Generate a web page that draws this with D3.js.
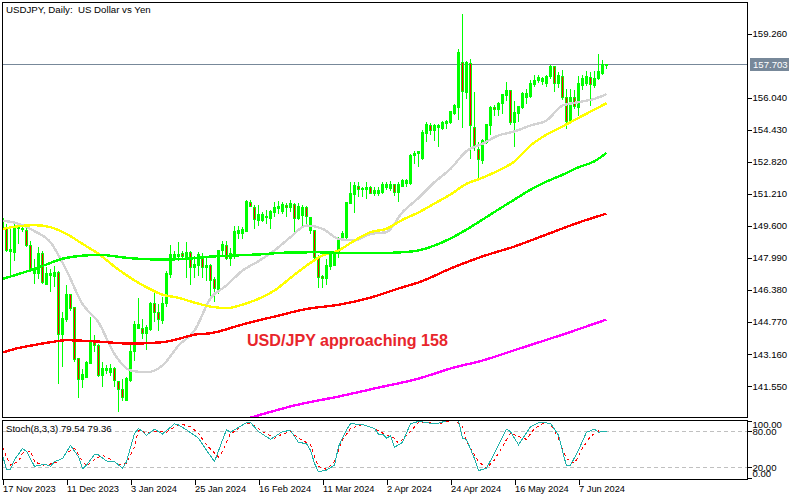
<!DOCTYPE html>
<html>
<head>
<meta charset="utf-8">
<script src="https://cdn.jsdelivr.net/npm/d3@7"></script>
<style>
  html, body { margin: 0; padding: 0; background: #fff; }
  text { font-family: "Liberation Sans", Arial, sans-serif; }
  .crisp { shape-rendering: crispEdges; }
</style>
</head>
<body>
<svg id="chart" width="800" height="500"></svg>
<script>
"use strict";

const opens = [149.44,149.44,148.30,148.27,149.44,149.48,149.36,148.61,147.22,147.22,
  148.19,146.65,147.10,147.05,147.27,144.13,144.87,146.14,145.47,142.91,
  141.86,141.99,142.69,143.80,143.58,142.07,142.31,142.24,142.41,141.79,
  141.35,140.82,141.82,143.30,144.45,144.42,144.20,144.37,145.71,145.26,
  144.84,145.67,147.15,148.02,148.07,148.19,148.02,148.27,147.48,147.60,
  147.94,147.49,147.60,146.88,146.38,148.36,148.63,147.94,148.11,149.20,
  149.20,149.33,150.79,150.53,149.87,149.87,150.09,149.95,150.28,150.45,
  150.32,150.63,150.50,150.67,149.95,150.11,150.50,149.36,149.36,148.02,
  147.05,146.93,147.57,147.60,148.19,148.94,149.03,150.73,151.17,151.57,
  151.40,151.40,151.50,151.24,151.24,151.29,151.54,151.45,151.67,151.29,
  151.57,151.71,151.71,153.13,153.25,152.96,154.25,154.64,154.39,154.52,
  154.47,154.76,154.81,155.22,155.56,157.82,156.31,157.74,154.55,153.43,
  152.88,153.80,154.64,155.53,155.43,155.73,156.14,156.40,154.81,155.26,
  155.56,156.06,156.09,156.70,156.90,156.87,156.76,157.10,157.60,156.73,
  157.12,156.03,154.86,156.06,155.53,156.65,156.73,157.07,156.65,156.98,
  157.23,157.65];
const highs = [150.70,149.70,149.44,149.70,149.70,149.70,149.61,148.86,147.94,148.52,
  148.35,147.52,147.43,147.60,147.35,145.26,146.60,146.18,145.50,142.91,
  142.41,142.83,145.00,144.13,143.66,142.74,142.58,142.66,142.49,141.82,
  141.91,141.99,143.66,144.84,145.98,144.92,144.59,145.76,146.29,145.67,
  146.01,147.35,148.61,148.35,148.77,148.35,148.77,148.35,148.10,148.27,
  148.22,147.99,147.69,147.02,148.36,148.86,148.83,148.49,149.57,149.57,
  149.53,150.87,150.87,150.62,150.62,150.28,150.37,150.40,150.79,150.84,
  150.79,150.73,150.90,150.73,150.73,150.62,150.57,150.06,149.39,148.11,
  147.15,147.94,148.27,148.27,149.03,149.36,150.79,151.79,151.79,151.79,
  151.54,151.79,151.62,151.54,151.54,151.79,151.79,151.87,151.71,151.79,
  151.96,151.96,153.21,153.38,153.38,154.39,154.81,154.76,154.72,154.72,
  154.86,154.89,155.39,155.73,158.46,160.22,157.90,157.99,156.31,153.80,
  153.97,154.72,155.64,155.69,155.81,156.23,156.81,156.43,155.89,155.64,
  156.31,156.48,156.90,157.15,157.20,157.07,157.15,157.70,157.65,157.32,
  157.43,156.48,156.48,156.40,157.10,157.15,157.40,157.32,157.37,158.24,
  157.94,157.74];
const lows = [149.44,148.27,147.10,147.85,148.69,149.28,148.52,147.35,146.68,146.93,
  146.68,146.60,146.26,146.51,141.65,142.49,144.75,145.34,142.74,140.95,
  141.45,141.96,142.66,143.25,142.02,141.49,142.16,142.07,141.49,140.23,
  140.82,140.78,141.74,142.83,144.42,143.92,143.36,144.33,144.75,144.33,
  144.67,145.50,146.98,147.94,147.85,147.94,146.98,146.60,146.98,147.10,
  146.98,146.85,145.93,145.76,146.18,148.11,147.89,147.60,147.94,148.94,
  148.94,149.28,150.53,149.45,149.61,149.78,149.70,149.45,150.03,150.20,
  150.20,150.03,150.28,149.28,149.87,149.61,149.61,149.20,147.94,146.48,
  146.48,146.60,147.38,147.60,147.99,148.86,148.94,150.70,150.23,151.03,
  151.03,150.95,151.20,151.12,151.12,151.20,151.40,151.37,151.12,150.79,
  151.54,151.54,151.67,152.71,152.54,152.88,153.80,154.14,153.88,153.55,
  154.39,154.47,154.69,155.19,154.89,154.52,155.98,152.96,153.38,152.01,
  152.71,153.72,154.14,155.09,155.14,155.22,155.89,154.64,153.55,154.81,
  155.47,155.73,156.03,156.56,156.76,156.65,156.56,156.98,156.31,156.53,
  155.93,154.47,154.81,155.47,155.09,156.43,156.60,155.64,156.53,156.90,
  157.15,157.48];
const closes = [149.95,148.35,148.39,149.53,149.53,149.39,148.61,147.43,147.43,148.19,
  146.76,147.18,147.18,147.27,144.13,144.92,146.14,145.42,142.86,141.86,
  142.12,142.74,143.80,143.58,142.07,142.41,142.41,142.41,141.82,141.35,
  140.98,141.91,143.30,144.62,144.62,144.20,144.47,145.71,145.26,144.87,
  145.71,147.18,148.15,148.15,148.15,148.07,148.27,147.48,147.65,148.14,
  147.48,147.60,146.85,146.43,148.36,148.66,147.94,148.23,149.33,149.36,
  149.39,150.84,150.57,149.90,150.17,150.17,150.02,150.34,150.53,150.57,
  150.67,150.53,150.70,149.95,150.57,150.53,150.06,150.03,148.02,147.02,
  146.93,147.60,148.19,148.22,148.94,149.20,150.75,151.24,151.62,151.40,
  151.45,151.50,151.24,151.37,151.37,151.67,151.67,151.67,151.29,151.67,
  151.87,151.87,153.13,153.25,153.35,154.29,154.69,154.39,154.64,154.64,
  154.81,154.86,155.34,155.64,158.32,156.35,157.82,154.64,153.63,152.91,
  153.88,154.69,155.53,155.43,155.73,156.20,156.40,154.81,155.31,155.59,
  156.23,156.23,156.76,156.90,157.03,156.98,157.10,157.60,156.73,157.15,
  156.03,154.86,156.03,155.59,156.73,156.98,157.10,156.70,156.98,157.35,
  157.69,157.70];

const grayBars = [0,4,8,12,16,20,24,28,32,36,40,44,48,52,56,60,64,68,72,76,80,84,88,92,96,100,104,108,112,116,120,124,128,132,136,140,144,148,151];
const grayVals = [149.86,149.70,149.33,148.77,147.35,145.67,144.75,143.16,142.33,142.24,142.58,143.58,144.33,145.95,146.60,147.35,147.82,148.36,149.03,149.61,149.45,148.94,148.86,149.19,149.28,150.28,151.00,151.79,152.46,153.35,153.72,154.14,154.34,154.64,154.89,155.64,155.81,155.98,156.21];
const yellowBars = [0,4,8,12,16,20,24,28,32,36,40,44,48,52,56,60,64,68,72,76,80,84,88,92,96,100,104,108,112,116,120,124,128,132,136,140,144,148,151];
const yellowVals = [149.44,149.58,149.63,149.53,149.19,148.69,148.19,147.55,146.98,146.51,146.14,145.98,145.74,145.54,145.46,145.64,145.93,146.35,146.98,147.60,148.11,148.36,148.86,149.28,149.45,149.90,150.27,150.72,151.17,151.71,152.01,152.38,152.83,153.63,154.18,154.59,155.02,155.44,155.76];
const greenBars = [0,8,16,24,32,40,48,52,56,64,72,78,84,92,100,104,108,112,116,120,124,128,132,136,140,144,148,151];
const greenVals = [146.93,147.43,147.99,148.14,147.97,147.90,147.97,148.05,148.09,148.16,148.26,148.27,148.24,148.22,148.27,148.36,148.61,148.96,149.41,149.91,150.42,150.92,151.41,151.82,152.16,152.54,152.84,153.26];
const redBars = [0,4,8,12,16,24,32,40,44,48,52,60,68,76,84,92,100,104,112,120,128,136,144,151];
const redVals = [143.23,143.46,143.61,143.75,143.85,143.78,143.68,143.75,143.92,144.13,144.20,144.64,145.04,145.42,145.63,145.99,146.51,146.75,147.45,148.06,148.56,149.16,149.76,150.21];
const magentaBars = [62,74,84,94,104,112,120,130,140,151];
const magentaVals = [139.96,140.62,141.02,141.47,141.92,142.43,142.83,143.48,144.13,144.89];

// stochastic
const stochMainBars = [0,1,2,3,5,6,8,10,11,12,13,15,17,19,20,21,23,24,26,28,30,31,33,34,35,36,38,40,43,44,46,49,51,53,55,56,57,61,62,64,67,70,72,74,76,77,78,79,81,83,84,86,87,90,93,94,95,96,97,98,100,102,104,107,109,111,114,115,116,118,119,121,123,124,126,127,129,132,134,137,139,140,141,142,144,146,148,149,151];
const stochMainVals = [40,16,16,32,51,46,21,24,24,21,29,34,56,37,17,23,41,40,30,29,18,29,76,84,79,73,83,75,92,90,82,68,48,29,65,82,78,94,94,79,66,79,81,61,59,48,26,12,15,23,54,82,92,91,84,75,75,68,72,53,61,92,96,93,93,97,97,68,66,34,14,18,43,57,83,79,57,87,94,93,73,46,22,23,48,78,83,78,79.54];
const stochSignalBars = [0,1,2,4,5,7,8,10,12,14,16,18,20,21,23,25,28,29,31,33,34,36,38,41,43,45,47,49,51,54,55,57,58,60,62,65,68,70,72,74,77,78,79,81,83,85,87,90,93,96,98,99,102,104,107,109,113,115,116,119,121,123,125,127,129,131,133,135,137,139,141,143,145,147,149,151];
const stochSignalVals = [53,37,23,29,43,46,29,23,25,29,43,51,29,22,32,40,29,24,26,54,81,77,79,78,87,91,87,76,57,37,46,76,79,90,93,79,68,75,79,68,57,37,21,16,29,65,84,91,84,73,68,59,79,94,94,92,98,88,62,29,18,32,54,77,71,66,84,92,92,68,34,26,51,71,80,79.36];
const stochLevels = [100, 80, 20, 0];

const priceTicks = [159.26,156.04,154.43,152.82,151.21,149.60,147.99,146.38,144.77,143.16,141.55];
const dateBars = [0,16,32,48,64,80,96,112,128,144];
const dateLabels = ["17 Nov 2023","11 Dec 2023","3 Jan 2024","25 Jan 2024","16 Feb 2024","11 Mar 2024","2 Apr 2024","24 Apr 2024","16 May 2024","7 Jun 2024"];
const lastPrice = 157.703;

const svg = d3.select("#chart");
const frameLeft = 2.5, frameRight = 747.5;
const x = d3.scaleLinear().domain([0, 151]).range([2.5, 606.5]);
const y = d3.scaleLinear().domain([141.55, 159.26]).range([386, 33.5]);
const ys = d3.scaleLinear().domain([0, 100]).range([479, 419]);

svg.append("defs").append("clipPath").attr("id", "mainClip")
  .append("rect").attr("x", frameLeft).attr("y", 2.5)
  .attr("width", frameRight - frameLeft).attr("height", 415);

const main = svg.append("g").attr("clip-path", "url(#mainClip)");

// last price line
main.append("line").attr("class", "crisp")
  .attr("x1", frameLeft).attr("x2", frameRight)
  .attr("y1", y(lastPrice)).attr("y2", y(lastPrice))
  .attr("stroke", "#778899");

// candles
const candles = main.append("g").attr("class", "crisp").selectAll("g")
  .data(opens.map((o, i) => i))
  .enter().append("g");

candles.append("line")
  .attr("x1", (i) => x(i)).attr("x2", (i) => x(i))
  .attr("y1", (i) => y(highs[i])).attr("y2", (i) => y(lows[i]))
  .attr("stroke", "#00ff00");

candles.append("rect")
  .attr("x", (i) => x(i) - 1).attr("width", 2)
  .attr("y", (i) => y(Math.max(opens[i], closes[i])))
  .attr("height", (i) => Math.abs(y(opens[i]) - y(closes[i])))
  .attr("fill", (i) => (closes[i] >= opens[i] ? "#00ff00" : "#ff0000"))
  .attr("stroke", "#00ff00");

function drawMA(bars, vals, color) {
  const line = d3.line()
    .x((d, i) => x(bars[i]))
    .y((d) => y(d))
    .curve(d3.curveMonotoneX);
  main.append("path").attr("class", "crisp")
    .attr("d", line(vals))
    .attr("fill", "none")
    .attr("stroke", color)
    .attr("stroke-width", 2.4);
}

drawMA(grayBars, grayVals, "#d3d3d3");
drawMA(yellowBars, yellowVals, "#ffff00");
drawMA(greenBars, greenVals, "#00ff00");
drawMA(redBars, redVals, "#ff0000");
drawMA(magentaBars, magentaVals, "#ff00ff");

// stoch panel
[80, 20].forEach(function (lv) {
  svg.append("line").attr("class", "crisp")
    .attr("x1", frameLeft).attr("x2", frameRight)
    .attr("y1", ys(lv)).attr("y2", ys(lv))
    .attr("stroke", "#c0c0c0")
    .attr("stroke-dasharray", "4,3");
});

const signalLine = d3.line().x((d, i) => x(stochSignalBars[i])).y((d) => ys(d));
svg.append("path").attr("class", "crisp")
  .attr("d", signalLine(stochSignalVals))
  .attr("fill", "none").attr("stroke", "#ff0000")
  .attr("stroke-dasharray", "3,3");

const mainLine = d3.line().x((d, i) => x(stochMainBars[i])).y((d) => ys(d));
svg.append("path").attr("class", "crisp")
  .attr("d", mainLine(stochMainVals))
  .attr("fill", "none").attr("stroke", "#20b2aa");

// frames
svg.append("rect").attr("class", "crisp")
  .attr("x", frameLeft).attr("y", 2.5)
  .attr("width", frameRight - frameLeft).attr("height", 415)
  .attr("fill", "none").attr("stroke", "#000");
svg.append("rect").attr("class", "crisp")
  .attr("x", frameLeft).attr("y", 420.5)
  .attr("width", frameRight - frameLeft).attr("height", 59)
  .attr("fill", "none").attr("stroke", "#000");

// axes
const priceAxis = d3.axisRight(y)
  .tickValues(priceTicks)
  .tickFormat(d3.format(".3f"))
  .tickSize(4)
  .tickPadding(1);
svg.append("g").attr("transform", `translate(${frameRight},0)`).call(priceAxis)
  .call((g) => g.select(".domain").remove());

const stochAxis = d3.axisRight(ys)
  .tickValues(stochLevels)
  .tickFormat(d3.format(".2f"))
  .tickSize(4)
  .tickPadding(1);
svg.append("g").attr("class", "stochAxis").attr("transform", `translate(${frameRight},0)`).call(stochAxis)
  .call((g) => g.select(".domain").remove());
// the outer stoch labels sit inside the panel
svg.selectAll(".stochAxis .tick").filter((d) => d == 100)
  .call((t) => t.select("line").attr("y1", 2).attr("y2", 2))
  .call((t) => t.select("text").attr("y", 5));
svg.selectAll(".stochAxis .tick").filter((d) => d == 0)
  .call((t) => t.select("line").attr("y1", -1).attr("y2", -1))
  .call((t) => t.select("text").attr("y", -6));

const dateAxis = d3.axisBottom(x)
  .tickValues(dateBars)
  .tickFormat((d, i) => dateLabels[i])
  .tickSize(5)
  .tickPadding(1);
svg.append("g").attr("class", "dateAxis").attr("transform", "translate(0,479.5)").call(dateAxis)
  .call((g) => g.select(".domain").remove());
svg.selectAll(".dateAxis text").attr("text-anchor", "start").attr("dx", 0);

svg.selectAll(".tick line").attr("class", "crisp").attr("stroke", "#000");
svg.selectAll(".tick text").attr("fill", "#000").style("font-size", "9.6px");
svg.selectAll(".dateAxis text").style("font-size", "9.3px");

// price tag
const tagW = 39, tagH = 13;
svg.append("rect").attr("class", "crisp")
  .attr("x", 750).attr("y", y(lastPrice) - tagH / 2)
  .attr("width", tagW).attr("height", tagH)
  .attr("fill", "#778899");
svg.append("text")
  .attr("x", 753).attr("y", y(lastPrice) + 3.5)
  .attr("fill", "#fff").style("font-size", "9.6px")
  .text(d3.format(".3f")(lastPrice));

// labels
svg.append("text").attr("x", 6).attr("y", 13)
  .attr("fill", "#000").style("font-size", "9.7px").attr("xml:space", "preserve")
  .text("USDJPY, Daily:  US Dollar vs Yen");
svg.append("text").attr("x", 6).attr("y", 432)
  .attr("fill", "#000").style("font-size", "9.6px")
  .text("Stoch(8,3,3) 79.54 79.36");
svg.append("text").attr("x", 247).attr("y", 346)
  .attr("fill", "#e8252b").style("font-size", "16.1px").style("font-weight", "bold")
  .text("USD/JPY approaching 158");
</script>
</body>
</html>
